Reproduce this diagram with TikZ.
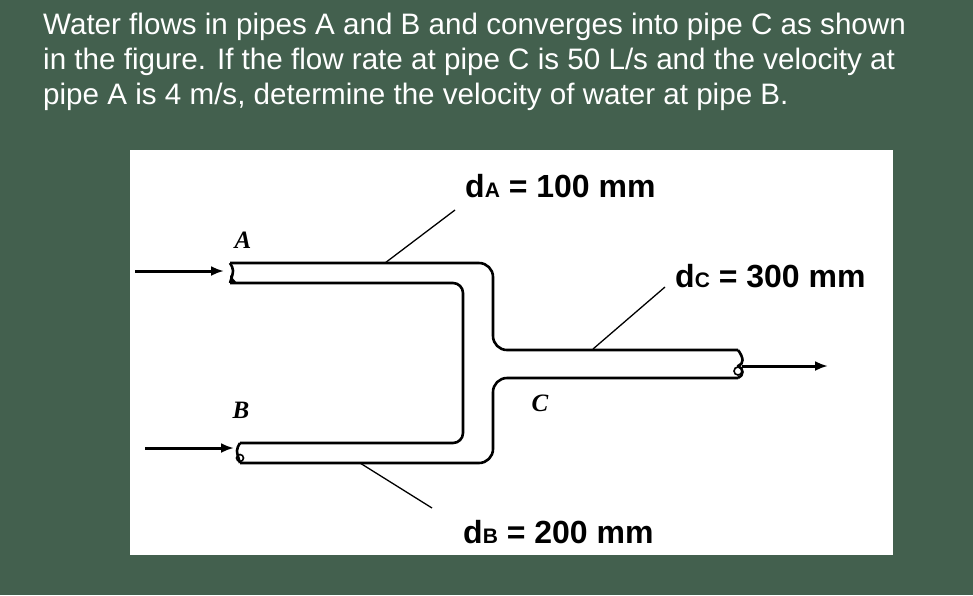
\documentclass[tikz,border=0pt]{standalone}
\usepackage{fontspec}
\setmainfont{Liberation Sans}
\newfontfamily\serifb{Liberation Serif}
\usetikzlibrary{arrows.meta}
\definecolor{bg}{HTML}{43604E}
\tikzset{pipe/.style={line width=2.6pt,line join=round},
 lead/.style={line width=1.3pt},
 flow/.style={line width=3pt,-{Latex[length=13pt,width=10pt]}},
 dim/.style={font=\bfseries\fontsize{32}{36}\selectfont,inner sep=0pt,anchor=base west},
 lab/.style={font=\serifb\bfseries\itshape\fontsize{25}{28}\selectfont,inner sep=0pt}}
\begin{document}
\begin{tikzpicture}[x=1pt,y=-1pt]
\useasboundingbox (0,0) rectangle (973,595);
\fill[bg] (0,0) rectangle (973,595);
\fill[white] (130,150) rectangle (893,555);
\node[anchor=north west,text=white,inner sep=0pt,align=left,font=\fontsize{29.6}{35}\selectfont] (t) at (43,13) {Water flows in pipes A and B and converges into pipe C as shown\\in the figure. If the flow rate at pipe C is 50 L/s and the velocity at\\pipe A is 4 m/s, determine the velocity of water at pipe B.};
% pipes
\draw[pipe,rounded corners=14pt] (230,263) -- (493,263) -- (493,350) -- (738,350);
\draw[pipe,rounded corners=10pt] (230,283) -- (463,283) -- (463,443) -- (240,443);
\draw[pipe,rounded corners=14pt] (240,463) -- (493,463) -- (493,378) -- (738,378);
% ends
\draw[pipe] (230,263) .. controls (234,270) .. (230,283);
\fill (230,275) -- (237,283) -- (230,283) -- cycle;
\draw[pipe] (240,443) .. controls (236,450) .. (240,463);
\draw[line width=1.6pt] (240,458) circle[radius=3.5];
\draw[pipe] (738,350) .. controls (744,358) and (744,364) .. (738,366) .. controls (744,368) and (744,376) .. (738,378);
\draw[line width=1.6pt] (738,371) circle[radius=4];
% arrows
\coordinate (a0) at (135,271); \coordinate (a1) at (224,271);
\coordinate (b0) at (145,448); \coordinate (b1) at (234,448);
\coordinate (c0) at (742,366); \coordinate (c1) at (828,366);
\draw[flow] (a0) -- (a1);
\draw[flow] (b0) -- (b1);
\draw[flow] (c0) -- (c1);
% labels
\node[lab] (A) at (243,240) {A};
\node[lab] (B) at (241,410) {B};
\node[lab] (C) at (540,403) {C};
\node[dim] (dA) at (465,197) {d{\fontsize{21}{22}\selectfont A} = 100 mm};
\node[dim] (dC) at (675,287) {d{\fontsize{21}{22}\selectfont C} = 300 mm};
\node[dim] (dB) at (463,543) {d{\fontsize{21}{22}\selectfont B} = 200 mm};
\draw[lead] (385,263) -- (455,210);
\draw[lead] (593,349) -- (665,287);
\draw[lead] (360,463) -- (432,508);
\end{tikzpicture}
\end{document}
